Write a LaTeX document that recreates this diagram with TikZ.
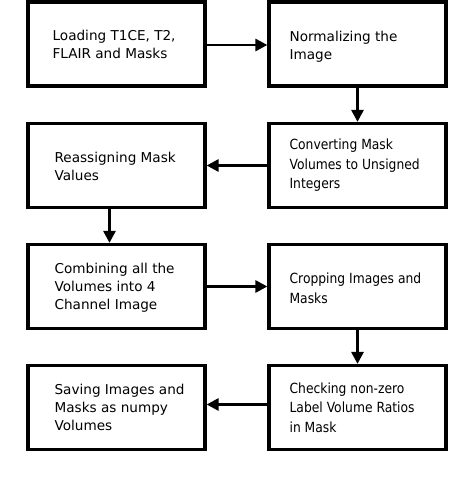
\documentclass[tikz,border=0pt]{standalone}
\usepackage{fontspec}
\setmainfont{DejaVu Sans}
\newfontfamily\condfont[FakeStretch=0.88]{DejaVu Sans}
\usetikzlibrary{arrows.meta}
\begin{document}
\begin{tikzpicture}[x=1pt,y=-1pt,
  box/.style={draw=black, line width=3.2pt, minimum width=177pt, minimum height=84pt, inner sep=0pt},
  txt/.style={anchor=west, align=left, inner sep=0pt, font=\fontsize{13.6}{18}\selectfont},
  ntxt/.style={anchor=west, align=left, inner sep=0pt, font=\condfont\fontsize{14}{19.5}\selectfont},
  arr/.style={line width=2.8pt, -{Triangle[length=12pt,width=12pt]}}]
\useasboundingbox (0,0) rectangle (474,478);
% boxes (centres)
\node[box] (b1) at (116.5,44) {};
\node[box] (b2) at (357.5,44) {};
\node[box] (b3) at (357.5,165.5) {};
\node[box] (b4) at (116.5,165.5) {};
\node[box] (b5) at (116.5,286.5) {};
\node[box] (b6) at (357.5,286.5) {};
\node[box] (b7) at (357.5,407.5) {};
\node[box] (b8) at (116.5,407.5) {};
% texts
\node[txt] (t1) at ([xshift=26pt]b1.west) {Loading T1CE, T2,\\FLAIR and Masks};
\node[txt] (t2) at ([xshift=22pt,yshift=-3pt]b2.west) {Normalizing the\\Image};
\node[ntxt] (t3) at ([xshift=22pt]b3.west) {Converting Mask\\Volumes to Unsigned\\Integers};
\node[txt] (t4) at ([xshift=28pt,yshift=-1pt]b4.west) {Reassigning Mask\\Values};
\node[txt] (t5) at ([xshift=28pt,yshift=-1pt]b5.west) {Combining all the\\Volumes into 4\\Channel Image};
\node[ntxt] (t6) at ([xshift=22pt,yshift=-2pt]b6.west) {Cropping Images and\\Masks};
\node[ntxt] (t7) at ([xshift=22pt]b7.west) {Checking non-zero\\Label Volume Ratios\\in Mask};
\node[txt] (t8) at ([xshift=28pt]b8.west) {Saving Images and\\Masks as numpy\\Volumes};
% connectors
\draw[arr] ([yshift=-1pt]b1.east) -- ([yshift=-1pt]b2.west);
\draw[arr] (b2.south) -- (b3.north);
\draw[arr] (b3.west) -- (b4.east);
\draw[arr] ([xshift=-7pt]b4.south) -- ([xshift=-7pt]b5.north);
\draw[arr] (b5.east) -- (b6.west);
\draw[arr] (b6.south) -- (b7.north);
\draw[arr] ([yshift=3pt]b7.west) -- ([yshift=3pt]b8.east);
\end{tikzpicture}
\end{document}
